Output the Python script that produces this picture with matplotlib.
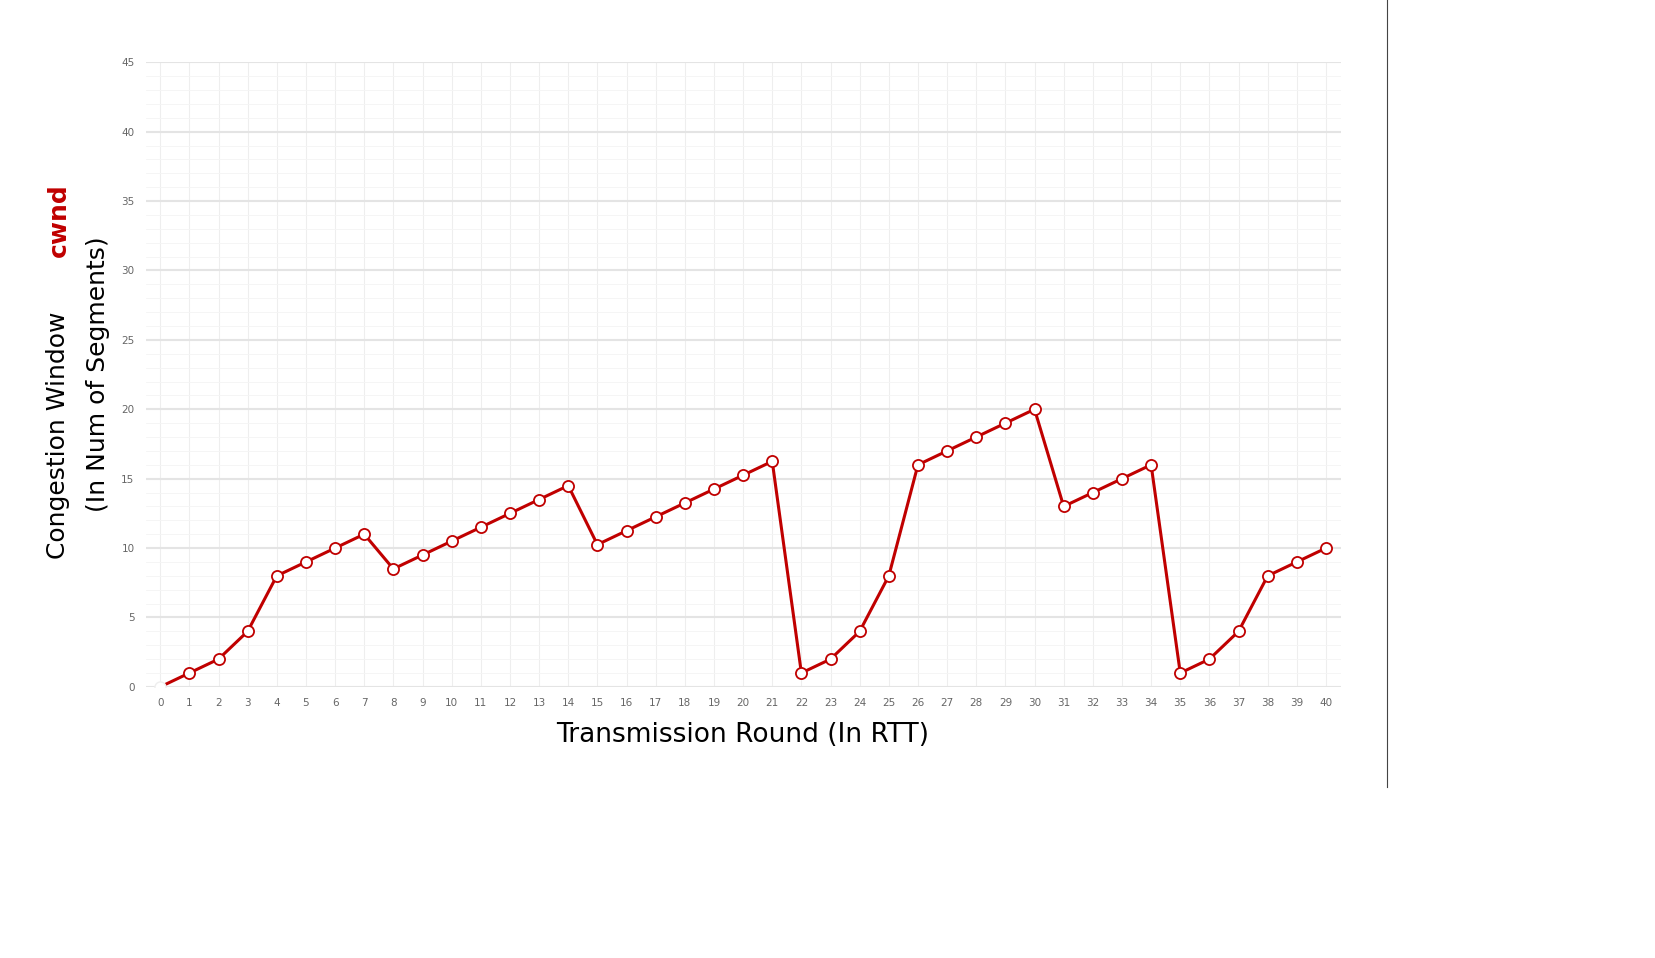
import matplotlib
matplotlib.use('Agg')
import matplotlib.pyplot as plt
from matplotlib.lines import Line2D

# 送信ラウンドと輻輳ウィンドウ
rounds = list(range(0, 41))
cwnd = [0, 1, 2, 4, 8, 9, 10, 11, 8.5, 9.5, 10.5, 11.5, 12.5, 13.5, 14.5,
        10.25, 11.25, 12.25, 13.25, 14.25, 15.25, 16.25, 1, 2, 4, 8, 16, 17,
        18, 19, 20, 13, 14, 15, 16, 1, 2, 4, 8, 9, 10]
y_ticks = list(range(0, 46, 5))

fig = plt.figure(figsize=(16.55, 9.58), dpi=100)
ax = fig.add_axes([0.088, 0.283, 0.722, 0.652])

red = '#c00000'
ax.plot(rounds, cwnd, color=red, lw=2.2, zorder=3)
ax.plot(rounds[1:], cwnd[1:], 'o', ms=8, mfc='white', mec=red, mew=1.3, zorder=4)
ax.plot(rounds[:1], cwnd[:1], 'o', ms=8, mfc='white', mec='#eeeeee', zorder=4)

ax.set_xlim(-0.5, 40.5)
ax.set_ylim(0, 45)
ax.set_xticks(rounds)
ax.set_yticks(y_ticks)
ax.set_yticks(range(0, 46), minor=True)
ax.tick_params(which='both', length=0, labelsize=7.5, labelcolor='#666666', pad=8)
ax.grid(True, which='major', axis='y', color='#e4e4e4', lw=1.5)
ax.grid(True, which='major', axis='x', color='#eeeeee', lw=0.8)
ax.grid(True, which='minor', axis='y', color='#f4f4f4', lw=0.6)
ax.set_axisbelow(True)
for s in ax.spines.values():
    s.set_visible(False)

ax.set_xlabel('Transmission Round (In RTT)', fontsize=19, labelpad=10)
ax.text(-0.073, 0.204, 'Congestion Window', transform=ax.transAxes,
        rotation=90, ha='center', va='bottom', fontsize=18)
ax.text(-0.073, 0.688, 'cwnd', transform=ax.transAxes, color=red,
        fontweight='bold', rotation=90, ha='center', va='bottom', fontsize=18)
ax.text(-0.040, 0.5, '(In Num of Segments)', transform=ax.transAxes,
        rotation=90, ha='center', va='center', fontsize=18)

# 右側の縦線
fig.add_artist(Line2D([0.838, 0.838], [0.178, 1.0], color='#444444', lw=0.8))

fig.savefig('out.png')
